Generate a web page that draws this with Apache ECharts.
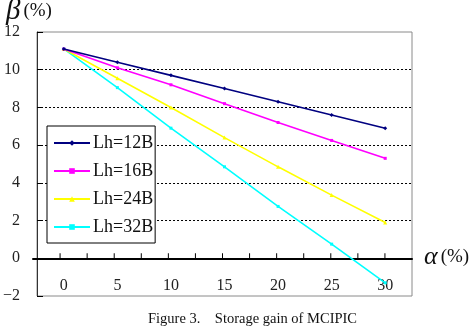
<!DOCTYPE html>
<html>
<head>
<meta charset="utf-8">
<script src="https://cdn.jsdelivr.net/npm/echarts@6/dist/echarts.min.js"></script>
<style>html,body{margin:0;padding:0;background:#fff;}#c{width:474px;height:334px;}</style>
</head>
<body>
<div id="c"></div>
<script>
var alpha = [0, 5, 10, 15, 20, 25, 30];
var seriesNames = ['Lh=12B', 'Lh=16B', 'Lh=24B', 'Lh=32B'];
var lh12 = [11.1, 10.4, 9.7, 9.0, 8.3, 7.6, 6.9];
var lh16 = [11.1, 10.1, 9.2, 8.2, 7.2, 6.25, 5.3];
var lh24 = [11.1, 9.55, 8.0, 6.4, 4.85, 3.35, 1.9];
var lh32 = [11.1, 9.05, 6.9, 4.85, 2.75, 0.75, -1.3];
var xLabels = [0, 5, 10, 15, 20, 25, 30];
var xTicks = [0, 2.5, 5, 7.5, 10, 12.5, 15, 17.5, 20, 22.5, 25, 27.5, 30];
var xTickStep = 2.5;
var yLabels = [-2, 0, 2, 4, 6, 8, 10, 12];

var FONT = "'Liberation Serif', 'Times New Roman', serif";
var colors = ['#000080', '#ff00ff', '#ffff00', '#00ffff'];
var symbols = ['diamond', 'rect', 'triangle', 'rect'];
var sizes = [4, 3, 4, 3];
var allData = [lh12, lh16, lh24, lh32];

var GT = 32, GB = 38, GL = 33, GR = 62, H = 334, TICK = 5;
var yMin = -2, yMax = 12;
var plotH = H - GT - GB;
var zeroBottom = GB + (0 - yMin) / (yMax - yMin) * plotH;

function pairs(vals) {
  return alpha.map(function (a, i) { return [a, vals[i]]; });
}

var lineSeries = seriesNames.map(function (n, i) {
  return {
    name: n, type: 'line', data: pairs(allData[i]), xAxisIndex: 0, yAxisIndex: 0,
    symbol: symbols[i], symbolSize: sizes[i], showSymbol: true,
    itemStyle: {color: colors[i]},
    lineStyle: {color: colors[i], width: 1.6},
    z: 10 - i
  };
});
lineSeries.push({
  name: 'xticks', type: 'bar', xAxisIndex: 1, yAxisIndex: 1, silent: true,
  data: xTicks.map(function (t) { return [t, 1]; }),
  barWidth: 1, itemStyle: {color: '#000'}, z: 3
});

var chart = echarts.init(document.getElementById('c'), null, {renderer: 'canvas'});
chart.setOption({
  animation: false,
  backgroundColor: '#fff',
  grid: [
    {left: GL, right: GR, top: GT, bottom: GB, show: true, borderColor: '#8a8a8a', borderWidth: 1, containLabel: false},
    {left: GL, right: GR, top: H - zeroBottom - TICK, bottom: zeroBottom, show: false, containLabel: false}
  ],
  xAxis: [{
    gridIndex: 0,
    type: 'value', min: -xTickStep, max: 30 + xTickStep, interval: xTickStep, position: 'bottom',
    axisLine: {show: false, onZero: false},
    axisTick: {show: false},
    axisLabel: {
      show: true, margin: -18, color: '#222', fontFamily: FONT, fontSize: 16,
      showMinLabel: false, showMaxLabel: false,
      formatter: function (v) { return xLabels.indexOf(v) >= 0 ? String(v) : ''; }
    },
    splitLine: {show: false}
  }, {
    gridIndex: 1,
    type: 'value', min: -xTickStep, max: 30 + xTickStep, interval: xTickStep, position: 'bottom',
    axisLine: {show: true, onZero: false, lineStyle: {color: '#000', width: 2}},
    axisTick: {show: false},
    axisLabel: {show: false},
    splitLine: {show: false}
  }],
  yAxis: [{
    gridIndex: 0,
    type: 'value', min: yMin, max: yMax, interval: 2,
    axisLine: {show: true, onZero: false, lineStyle: {color: '#333', width: 1}},
    axisTick: {show: true, inside: true, length: 6, lineStyle: {color: '#000'}},
    axisLabel: {
      margin: 17, color: '#222', fontFamily: FONT, fontSize: 16,
      formatter: function (v) { return yLabels.indexOf(v) >= 0 ? String(v).replace('-', '\u2212') : ''; }
    },
    splitLine: {show: true, showMinLine: false, showMaxLine: false, lineStyle: {color: '#000', type: [2, 2], width: 1}}
  }, {
    gridIndex: 1, type: 'value', min: 0, max: 1, show: false, splitLine: {show: false}
  }],
  legend: {
    orient: 'vertical', left: 47, top: 126,
    padding: [8, 2, 7, 6],
    itemGap: 10, itemWidth: 36, itemHeight: 7,
    borderColor: '#000', borderWidth: 1, backgroundColor: '#fff',
    textStyle: {fontFamily: FONT, fontSize: 18, color: '#111', padding: [0, 0, 0, -2]},
    data: seriesNames
  },
  series: lineSeries,
  graphic: [
    {type: 'text', left: 6, top: -3, style: {
      rich: {
        g: {fontFamily: FONT, fontStyle: 'italic', fontSize: 29, fill: '#111', verticalAlign: 'middle'},
        p: {fontFamily: FONT, fontSize: 19, fill: '#111', padding: [0, 0, 0, 3], verticalAlign: 'middle'}
      },
      text: '{g|\u03b2}{p|(%)}'
    }},
    {type: 'text', left: 424, top: 244, style: {
      rich: {
        g: {fontFamily: FONT, fontStyle: 'italic', fontSize: 26, fill: '#111', verticalAlign: 'middle'},
        p: {fontFamily: FONT, fontSize: 19, fill: '#111', padding: [0, 0, 0, 3], verticalAlign: 'middle'}
      },
      text: '{g|\u03b1}{p|(%)}'
    }},
    {type: 'text', left: 148, top: 312, style: {
      fontFamily: FONT, fontSize: 14.5, fill: '#111',
      text: 'Figure 3.    Storage gain of MCIPIC'
    }}
  ]
});
</script>
</body>
</html>
